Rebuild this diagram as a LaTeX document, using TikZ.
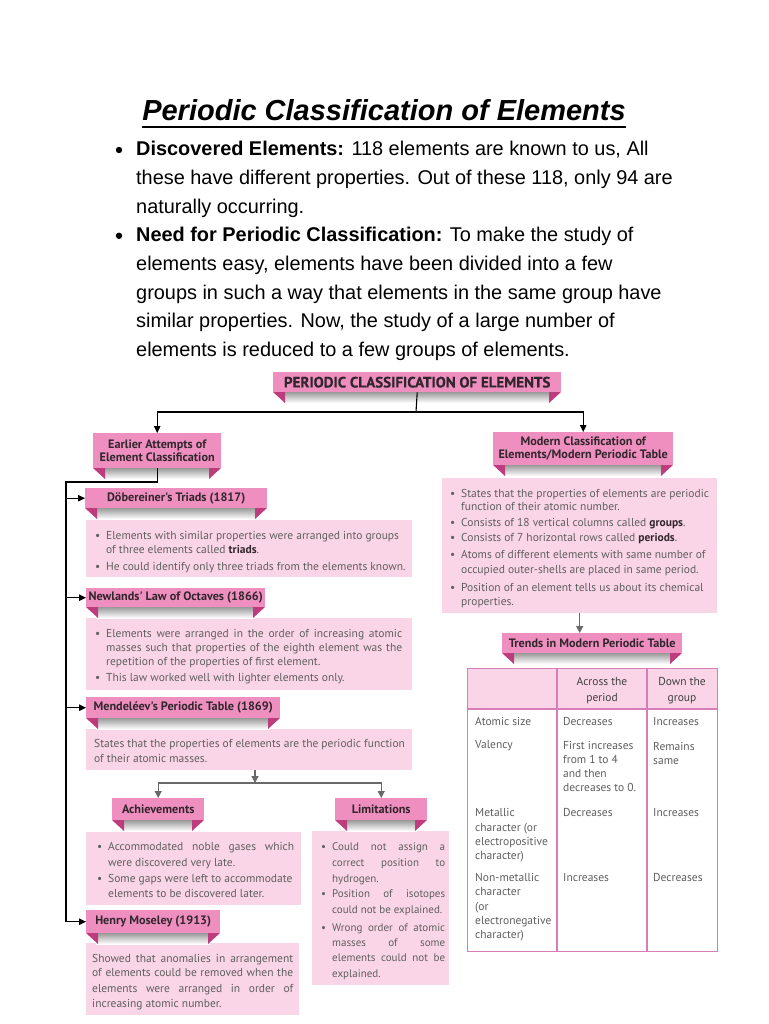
\documentclass[tikz,border=0pt]{standalone}
\usepackage{fontspec}
\setmainfont{Liberation Sans}
\newfontfamily\dfont{PT Sans}
\newfontfamily\dfontmed[FakeBold=0.3]{PT Sans}
\usetikzlibrary{arrows.meta}
\definecolor{hpink}{RGB}{238,143,192}
\definecolor{dpink}{RGB}{190,60,125}
\definecolor{lpink}{RGB}{250,213,231}
\definecolor{tpink}{RGB}{215,125,185}
\definecolor{tgray}{RGB}{95,95,95}
\definecolor{htext}{RGB}{50,38,45}
\definecolor{agray}{RGB}{105,105,105}
\hbadness=10000 \hfuzz=50pt \vbadness=10000
\newcounter{ln}
\newcommand\bul{\makebox[11pt][l]{\textbullet}}
\newcommand\ind{\hspace*{11pt}}
\newcommand\jst[2]{\makebox[#1pt][s]{#2}}
\newcommand\hlw[1]{\textcolor{htext}{\bfseries #1}}
\tikzset{
  x=1pt, y=-1pt,
  headbox/.style={fill=hpink, draw=none, inner sep=1pt, align=center, text=htext, font=\dfont\bfseries\fontsize{12.2}{13.5}\selectfont},
  cbox/.style={fill=lpink, draw=none, inner sep=0, anchor=north west},
  tline/.style={anchor=base west, inner sep=0, text=tgray, font=\dfont\fontsize{11.5}{13}\selectfont},
  bline/.style={anchor=base west, inner sep=0, text=black, font=\fontsize{19.9}{22}\selectfont},
  blk/.style={draw=black, line width=1.1pt},
  blkarr/.style={blk, -{Triangle[length=7pt,width=6.5pt]}},
  garr/.style={draw=agray, line width=1.3pt, -{Triangle[length=7pt,width=7pt]}},
}
\newcommand\tln[4][]{\stepcounter{ln}\node[tline,#1] (L\arabic{ln}) at (#2,#3) {#4};}
\newcommand\ribbonbox[6]{%
  \shade[top color=black!40, bottom color=white] (#2+10,#5) rectangle (#4-10,#5+11);
  \fill[dpink] (#2,#5) -- (#2+12,#5) -- (#2+12,#5+11) -- cycle;
  \fill[dpink] (#4,#5) -- (#4-12,#5) -- (#4-12,#5+11) -- cycle;
  \node[headbox, minimum width=#4-#2, minimum height=#5-#3, anchor=north west] (#1) at (#2,#3) {#6};
}
\newcommand\cbx[5]{\node[cbox, minimum width=#4-#2, minimum height=#5-#3] (#1) at (#2,#3) {};}
\begin{document}
\begin{tikzpicture}
\useasboundingbox[fill=white] (0,0) rectangle (768,1024);
% title
\node[anchor=base, inner sep=0, font=\bfseries\itshape\fontsize{29}{32}\selectfont] (title) at (384,121) {Periodic Classification of Elements};
\draw[line width=2.3pt] ([yshift=-6pt]title.base west) -- ([yshift=-6pt]title.base east);
% bullets
\fill (119,150) circle[radius=3.2pt];
\fill (119,235.8) circle[radius=3.2pt];
\node[bline] (b1) at (136,156) {\textbf{Discovered Elements:} 118 elements are known to us, All};
\node[bline] (b2) at (136,184.6) {these have different properties. Out of these 118, only 94 are};
\node[bline] (b3) at (136,213.2) {naturally occurring.};
\node[bline] (b4) at (136,241.8) {\textbf{Need for Periodic Classification:} To make the study of};
\node[bline] (b5) at (136,270.4) {elements easy, elements have been divided into a few};
\node[bline] (b6) at (136,299) {groups in such a way that elements in the same group have};
\node[bline] (b7) at (136,327.6) {similar properties. Now, the study of a large number of};
\node[bline] (b8) at (136,356.2) {elements is reduced to a few groups of elements.};

% content boxes
\cbx{dobC}{86}{520}{412}{577}
\cbx{newC}{86}{618}{412}{690}
\cbx{menC}{86}{729}{412}{770}
\cbx{achC}{86}{832}{301}{905}
\cbx{limC}{312}{831}{449}{985}
\cbx{henC}{86}{943}{299}{1015}
\cbx{modC}{442}{478}{717}{613}

% headers
\ribbonbox{top}{273}{372}{561}{392}{\dfontmed\fontsize{15}{16}\selectfont PERIODIC CLASSIFICATION OF ELEMENTS}
\ribbonbox{earlier}{93}{433}{221}{468}{Earlier Attempts of\\Element Classification}
\ribbonbox{modern}{493}{432}{673}{465}{Modern Classification of\\Elements/Modern Periodic Table}
\ribbonbox{dob}{85}{488}{267}{508}{Döbereiner's Triads (1817)}
\ribbonbox{newl}{86}{588}{265}{607}{Newlands' Law of Octaves (1866)}
\ribbonbox{mend}{86}{697}{280}{718}{Mendeléev's Periodic Table (1869)}
\ribbonbox{achv}{112}{798}{204}{820}{Achievements}
\ribbonbox{limt}{335}{798}{427}{820}{Limitations}
\ribbonbox{henry}{86}{910}{220}{933}{Henry Moseley (1913)}
\ribbonbox{trends}{502}{633}{682}{653}{Trends in Modern Periodic Table}

% connectors
\coordinate (tj) at (416,412);
\coordinate (sp0) at (66,482);
\coordinate (mj) at (255,783);
\draw[blk] (top.south) -- (tj);
\draw[blkarr] (tj) -| (earlier.north);
\draw[blkarr] (tj) -| (modern.north);
\draw[blkarr] (earlier.south) |- (sp0) |- (henry.west);
\draw[blkarr] (sp0 |- dob.west) -- (dob.west);
\draw[blkarr] (sp0 |- newl.west) -- (newl.west);
\draw[blkarr] (sp0 |- mend.west) -- (mend.west);
\draw[garr] (menC.south -| mj) -- (mj);
\draw[garr] (mj) -| (achv.north);
\draw[garr] (mj) -| (limt.north);
\draw[garr] (modC.south) -- (modC.south |- trends.north);

% Dobereiner
\tln{95}{539}{\bul Elements with similar properties were arranged into groups}
\tln{95}{553}{\ind of three elements called \hlw{triads}.}
\tln{95}{570}{\bul He could identify only three triads from the elements known.}
% Newlands
\tln{95}{637}{\bul\jst{296}{Elements were arranged in the order of increasing atomic}}
\tln{95}{651}{\ind\jst{296}{masses such that properties of the eighth element was the}}
\tln{95}{665}{\ind repetition of the properties of first element.}
\tln{95}{681}{\bul This law worked well with lighter elements only.}
% Mendeleev
\tln{94}{747}{States that the properties of elements are the periodic function}
\tln{94}{762}{of their atomic masses.}
% Achievements
\tln{97}{850}{\bul\jst{186}{Accommodated noble gases which}}
\tln{97}{866}{\ind were discovered very late.}
\tln{97}{882}{\bul Some gaps were left to accommodate}
\tln{97}{897}{\ind elements to be discovered later.}
% Limitations
\begin{scope}[tline/.append style={font=\dfont\fontsize{11}{13}\selectfont}]
\tln{321}{850}{\bul\jst{113}{Could not assign a}}
\tln{321}{866}{\ind\jst{113}{correct position to}}
\tln{321}{882}{\ind hydrogen.}
\tln{321}{897}{\bul\jst{113}{Position of isotopes}}
\tln{321}{913}{\ind could not be explained.}
\tln{321}{931}{\bul\jst{113}{Wrong order of atomic}}
\tln{321}{946}{\ind\jst{113}{masses of some}}
\tln{321}{961}{\ind\jst{113}{elements could not be}}
\tln{321}{977}{\ind explained.}
\end{scope}
% Henry
\tln{92}{962}{\jst{201}{Showed that anomalies in arrangement}}
\tln{92}{976}{\jst{201}{of elements could be removed when the}}
\tln{92}{992}{\jst{201}{elements were arranged in order of}}
\tln{92}{1007}{increasing atomic number.}
% Modern
\tln{450}{497}{\bul States that the properties of elements are periodic}
\tln{450}{510}{\ind function of their atomic number.}
\tln{450}{526}{\bul Consists of 18 vertical columns called \hlw{groups}.}
\tln{450}{541}{\bul Consists of 7 horizontal rows called \hlw{periods}.}
\tln{450}{558}{\bul Atoms of different elements with same number of}
\tln{450}{573}{\ind occupied outer-shells are placed in same period.}
\tln{450}{591}{\bul Position of an element tells us about its chemical}
\tln{450}{605}{\ind properties.}

% table
\fill[lpink] (467,668) rectangle (717,709);
\node[draw=tpink, line width=1.3pt, inner sep=0, minimum width=250, minimum height=283, anchor=north west] (tbl) at (467,668) {};
\draw[tpink, line width=1.3pt] (557,668) -- (557,951) (647,668) -- (647,951) (467,709) -- (717,709);
\tln[anchor=base, text=black!75]{602}{685}{Across the}
\tln[anchor=base, text=black!75]{602}{701}{period}
\tln[anchor=base, text=black!75]{682}{685}{Down the}
\tln[anchor=base, text=black!75]{682}{701}{group}
\tln{475}{725}{Atomic size}
\tln{475}{748}{Valency}
\tln{475}{816}{Metallic}
\tln{475}{831}{character (or}
\tln{475}{845}{electropositive}
\tln{475}{859}{character)}
\tln{475}{881}{Non-metallic}
\tln{475}{895}{character}
\tln{475}{910}{(or}
\tln{475}{924}{electronegative}
\tln{475}{938}{character)}
\tln{563}{725}{Decreases}
\tln{563}{749}{First increases}
\tln{563}{763}{from 1 to 4}
\tln{563}{777}{and then}
\tln{563}{791}{decreases to 0.}
\tln{563}{816}{Decreases}
\tln{563}{881}{Increases}
\tln{653}{725}{Increases}
\tln{653}{750}{Remains}
\tln{653}{764}{same}
\tln{653}{816}{Increases}
\tln{653}{881}{Decreases}
\end{tikzpicture}
\end{document}
